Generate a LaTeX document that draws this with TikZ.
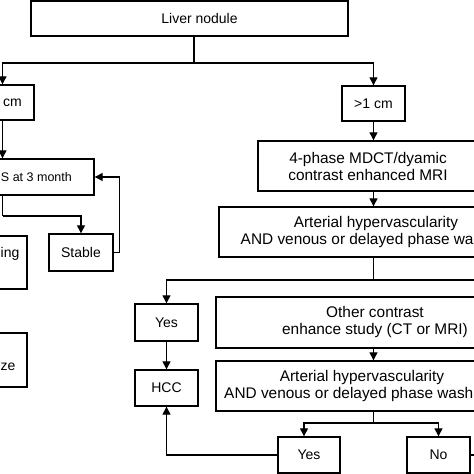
\documentclass[tikz,border=0pt]{standalone}
\usepackage{fontspec}
\setmainfont{Liberation Sans}
\usetikzlibrary{arrows.meta}
\begin{document}
\begin{tikzpicture}[x=1pt,y=-1pt,
  box/.style={draw, line width=1.4pt, inner sep=0pt, font=\fontsize{14}{16}\selectfont},
  bigbox/.style={box, align=center, font=\fontsize{15.4}{17}\selectfont},
  conn/.style={line width=1.3pt},
  arr/.style={conn, -{Triangle[length=8pt,width=8pt]}},
  lbl/.style={inner sep=0pt, font=\fontsize{14}{16}\selectfont}]
\useasboundingbox (0,0) rectangle (474,474);
\fill[white] (0,0) rectangle (474,474);
\clip (0,0) rectangle (474,474);

% boxes
\node[box, minimum width=317pt, minimum height=35pt] (liver) at (189.5,18.5) {\hspace*{20pt}Liver nodule};
\node[box, minimum width=63pt, minimum height=35pt] (lt) at (2.5,102.5) {};
\node[lbl, anchor=base east] (lttxt) at (22,106.5) {cm};
\node[box, minimum width=63pt, minimum height=35pt] (gt) at (373.5,103.5) {>1 cm};
\node[box, minimum width=160pt, minimum height=36pt] (us) at (14,177) {};
\node[lbl, anchor=base west, font=\fontsize{12.5}{15}\selectfont] (ustxt) at (0.8,181.5) {S at 3 month};
\node[box, minimum width=64pt, minimum height=37pt] (stable) at (81,252.5) {Stable};
\node[box, minimum width=80pt, minimum height=53pt] (grow) at (-13,262.5) {};
\node[lbl, anchor=base west] (growtxt) at (0.5,257) {ing};
\node[box, minimum width=80pt, minimum height=54pt] (size) at (-13,360) {};
\node[lbl, anchor=base west] (sizetxt) at (0.5,370.5) {ze};

\node[bigbox, minimum width=220pt, minimum height=50pt] (phase) at (368,166) {4-phase MDCT/dyamic\\contrast enhanced MRI};
\node[bigbox, minimum width=314pt, minimum height=50pt] (art1) at (376,232) {Arterial hypervascularity\\AND venous or delayed phase wa\hphantom{shout}};
\node[box, minimum width=63pt, minimum height=37pt] (yes1) at (166.5,322.5) {Yes};
\node[bigbox, minimum width=318pt, minimum height=51pt] (other) at (375,322.5) {Other contrast\\enhance study (CT or MRI)};
\node[box, minimum width=63pt, minimum height=36pt] (hcc) at (166.5,388) {HCC};
\node[bigbox, minimum width=292pt, minimum height=50pt] (art2) at (362,386) {Arterial hypervascularity\\AND venous or delayed phase wash\hphantom{out}\hspace*{5pt}};
\node[box, minimum width=62pt, minimum height=36pt] (yes2) at (309,455) {Yes};
\node[box, minimum width=63pt, minimum height=36pt] (no) at (438.5,455) {No};

% connectors
\coordinate (j1) at (194,63);
\draw[conn] ([xshift=4.5pt]liver.south) -- (j1);
\draw[arr] (j1) -| (lt.north);
\draw[arr] (j1) -| (gt.north);
\draw[arr] (lt.south) -- (lt.south |- us.north);
\coordinate (j3) at (2.5,216);
\draw[conn] (lt.south |- us.south) -- (j3);
\draw[arr] (j3) -| (stable.north);
\draw[arr] (stable.east) -- ++(6,0) |- (us.east);

\draw[arr] (gt.south) -- (gt.south |- phase.north);
\draw[arr] (gt.south |- phase.south) -- (gt.south |- art1.north);
\coordinate (j2) at (373.5,280);
\coordinate (offr) at (490,280);
\draw[conn] (gt.south |- art1.south) -- (j2);
\draw[arr] (j2) -| (yes1.north);
\draw[conn] (j2) -- (offr);
\draw[arr] (yes1.south) -- (hcc.north);
\draw[arr] (gt.south |- other.south) -- (gt.south |- art2.north);
\coordinate (j4) at (373.5,423);
\draw[conn] (gt.south |- art2.south) -- (j4);
\draw[arr] (j4) -| ([xshift=-5pt]yes2.north);
\draw[arr] (j4) -| (no.north);
\draw[arr] (yes2.west) -| (hcc.south);
\coordinate (offn) at (490,455);
\draw[conn] (no.east) -- (offn);
\end{tikzpicture}
\end{document}
